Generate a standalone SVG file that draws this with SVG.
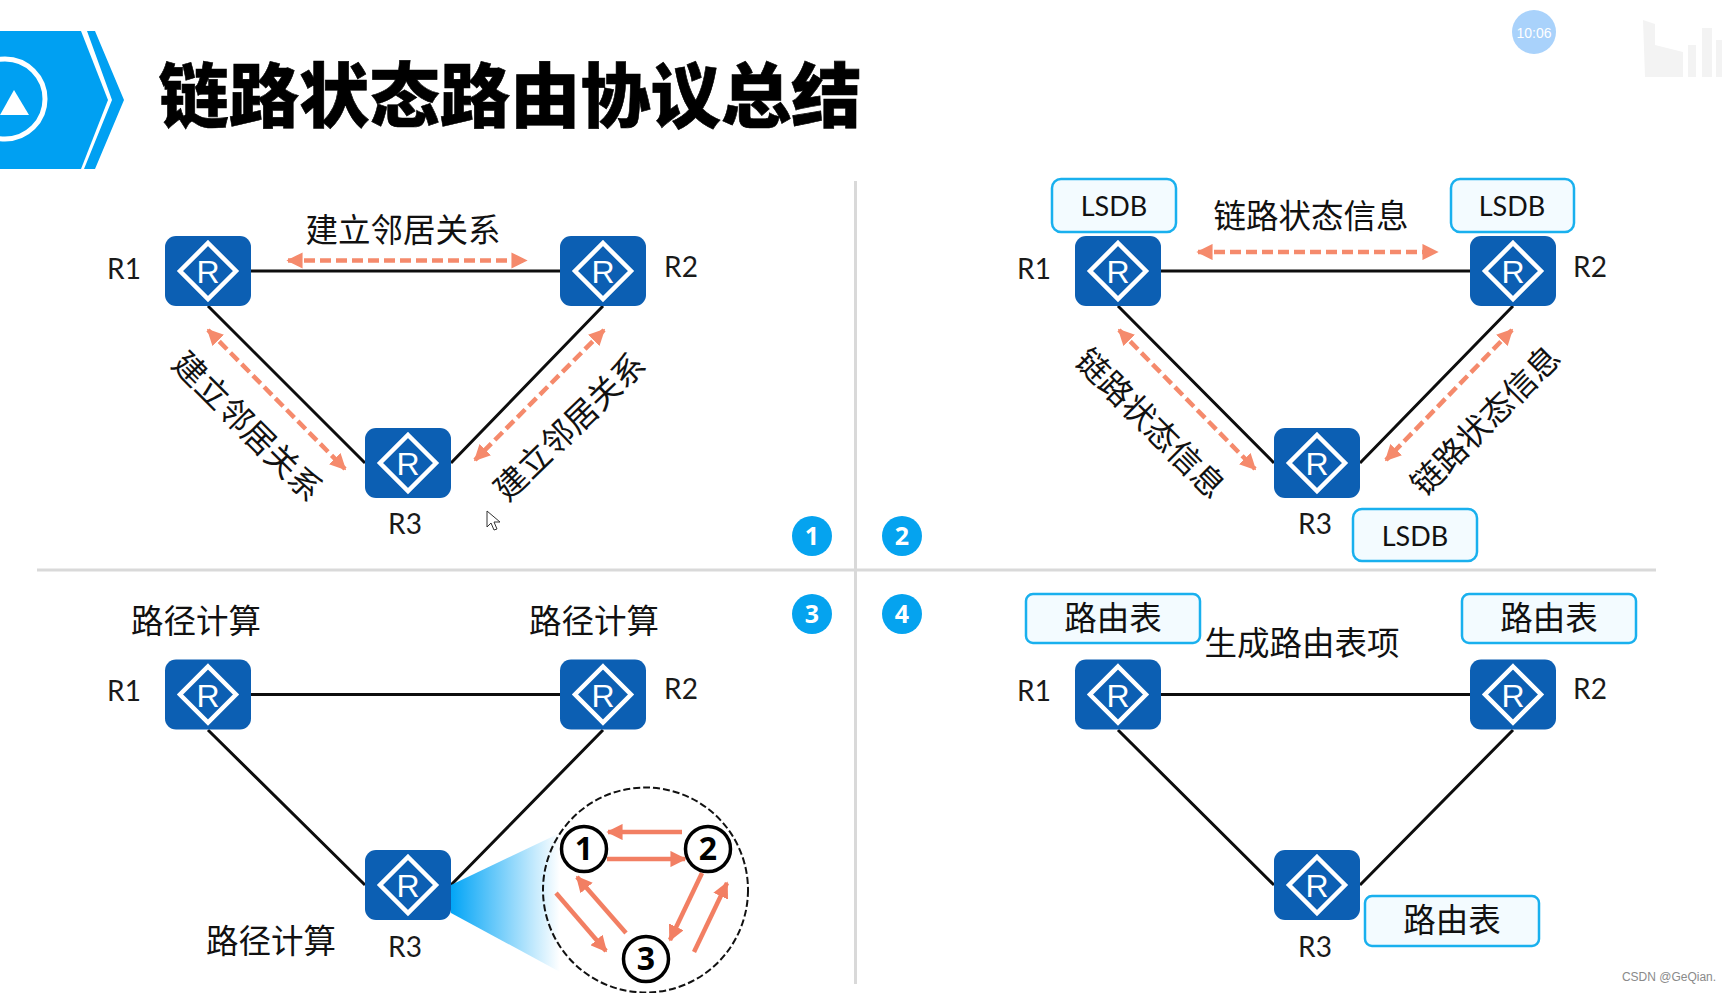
<svg xmlns="http://www.w3.org/2000/svg" width="1730" height="993" viewBox="0 0 1730 993">
<style>
text{font-family:"Noto Sans CJK SC","Noto Sans",sans-serif;fill:#111}
.zh{font-size:32.500px;text-anchor:middle}
.rn{font-family:"Lato",sans-serif;font-size:28px;text-anchor:middle;fill:#1a1a1a}
.box{fill:#f3fbff;stroke:#19b0ee;stroke-width:2.5}
.bt{font-family:"Lato",sans-serif;font-size:27px;text-anchor:middle}
.link{stroke:#0d0d0d;stroke-width:3;fill:none}
.dash{stroke:#f58a6c;stroke-width:4.5;stroke-dasharray:11 5;fill:none;marker-start:url(#ah);marker-end:url(#ah)}
.sol{stroke:#f27f63;stroke-width:4.5;fill:none;marker-end:url(#as)}
.sep{stroke:#d9d9d9;stroke-width:3}
.badge{fill:#05a3ef}
.bn{font-family:"Noto Sans",sans-serif;font-size:25px;font-weight:700;fill:#fff;text-anchor:middle}
.cn{font-family:"Noto Sans",sans-serif;font-size:32px;font-weight:700;fill:#000;text-anchor:middle}
.node{fill:#fff;stroke:#000;stroke-width:3.5}
</style>
<defs>
<marker id="ah" viewBox="0 0 10 10" refX="9" refY="5" markerWidth="3.6" markerHeight="3.6" orient="auto-start-reverse"><path d="M0 0L10 5L0 10Z" fill="#f58a6c"/></marker>
<marker id="as" viewBox="0 0 10 10" refX="9" refY="5" markerWidth="3.6" markerHeight="3.6" orient="auto"><path d="M0 0L10 5L0 10Z" fill="#f27f63"/></marker>
<linearGradient id="cone" x1="450" y1="0" x2="560" y2="0" gradientUnits="userSpaceOnUse"><stop offset="0" stop-color="#00a4f6"/><stop offset="1" stop-color="#00a4f6" stop-opacity="0"/></linearGradient>
<symbol id="router" width="86" height="70" viewBox="0 0 86 70" overflow="visible">
<rect x="0" y="0" width="86" height="70" rx="11" fill="#0c5fb3"/>
<path d="M43 7L71 35L43 63L15 35Z" fill="none" stroke="#fff" stroke-width="4.5"/>
<text x="43" y="47" font-size="32" text-anchor="middle" style="font-family:'Liberation Sans',sans-serif;fill:#fff">R</text>
</symbol>
</defs>
<rect width="1730" height="993" fill="#fff"/>

<g id="header">
<path d="M0 31H81L108 100L81 169H0Z" fill="#00a0f2"/>
<path d="M87 31H95L124 100L95 169H84L112 100Z" fill="#00a0f2"/>
<circle cx="5" cy="99" r="40" fill="none" stroke="#fff" stroke-width="5"/>
<path d="M14 90L29 115H0Z" fill="#fff"/>
<text x="510" y="122" font-size="70.300" font-weight="900" text-anchor="middle" stroke="#000" stroke-width="0.6" style="fill:#000">链路状态路由协议总结</text>
</g>

<g id="watermark">
<circle cx="1534" cy="32" r="22" fill="#a9d2fb"/>
<text x="1534" y="38" text-anchor="middle" style="font-family:'Liberation Sans',sans-serif;font-size:14px;fill:#fff">10:06</text>
<path d="M1643 20L1655 24V45L1683 52V77L1645 77Z M1688 45H1696V77H1688Z M1702 28H1712V77H1702Z M1716 40H1722V77H1716Z" fill="#f3f3f3"/>
</g>

<g id="separators">
<line class="sep" x1="855.500" y1="181" x2="855.500" y2="984"/>
<line class="sep" x1="37" y1="570" x2="1656" y2="570"/>
</g>

<g id="connectors">
<path class="link" d="M251 271H560M208 306L365 463M603 306L451 463"/>
<path class="link" d="M1161 271H1470M1118 306L1274 463M1513 306L1360 463"/>
<path class="link" d="M251 694.500H560M208 730L365 885M603 730L451 885"/>
<path class="link" d="M1161 694.500H1470M1118 730L1274 885M1513 730L1360 885"/>
<path class="dash" d="M288 260.500H526"/>
<path class="dash" d="M208 330L345 469"/>
<path class="dash" d="M604 330L475 460"/>
<path class="dash" d="M1198 252H1437"/>
<path class="dash" d="M1119 330L1255 469"/>
<path class="dash" d="M1512 330L1386 460"/>
</g>

<g id="p1-labels">
<text class="zh" x="403" y="242">建立邻居关系</text>
<text class="zh" transform="translate(247 427) rotate(45)" y="11">建立邻居关系</text>
<text class="zh" transform="translate(570 427) rotate(-44)" y="11">建立邻居关系</text>
</g>
<g id="p1-r1"><use href="#router" x="165" y="236"/><text class="rn" x="124" y="279">R1</text></g>
<g id="p1-r2"><use href="#router" x="560" y="236"/><text class="rn" x="681" y="277">R2</text></g>
<g id="p1-r3"><use href="#router" x="365" y="428"/><text class="rn" x="405" y="534">R3</text></g>
<g id="cursor"><path d="M487 511V527L491 523L494 530L497 529L494 522L500 522Z" fill="#fff" stroke="#333" stroke-width="1"/></g>

<g id="p2-labels">
<text class="zh" x="1311" y="228">链路状态信息</text>
<text class="zh" transform="translate(1150 424) rotate(45)" y="11">链路状态信息</text>
<text class="zh" transform="translate(1486 421) rotate(-45)" y="11">链路状态信息</text>
</g>
<g id="p2-r1"><use href="#router" x="1075" y="236"/><text class="rn" x="1034" y="279">R1</text></g>
<g id="p2-r2"><use href="#router" x="1470" y="236"/><text class="rn" x="1590" y="277">R2</text></g>
<g id="p2-r3"><use href="#router" x="1274" y="428"/><text class="rn" x="1315" y="534">R3</text></g>
<g id="lsdb1"><rect class="box" x="1052" y="179" width="124" height="53" rx="9"/><text class="bt" x="1114" y="216">LSDB</text></g>
<g id="lsdb2"><rect class="box" x="1451" y="179" width="123" height="53" rx="9"/><text class="bt" x="1512" y="216">LSDB</text></g>
<g id="lsdb3"><rect class="box" x="1353" y="509" width="124" height="52" rx="9"/><text class="bt" x="1415" y="546">LSDB</text></g>

<g id="badges">
<circle class="badge" cx="812" cy="536" r="20"/><text class="bn" x="812" y="545">1</text>
<circle class="badge" cx="902" cy="536" r="20"/><text class="bn" x="902" y="545">2</text>
<circle class="badge" cx="812" cy="614" r="20"/><text class="bn" x="812" y="623">3</text>
<circle class="badge" cx="902" cy="614" r="20"/><text class="bn" x="902" y="623">4</text>
</g>

<g id="p3-labels">
<text class="zh" x="196" y="633">路径计算</text>
<text class="zh" x="594" y="633">路径计算</text>
<text class="zh" x="271" y="953">路径计算</text>
</g>
<g id="p3-r1"><use href="#router" x="165" y="659.500"/><text class="rn" x="124" y="701">R1</text></g>
<g id="p3-r2"><use href="#router" x="560" y="659.500"/><text class="rn" x="681" y="699">R2</text></g>
<g id="inset">
<path d="M451 885L560 833V972L451 913Z" fill="url(#cone)"/>
<circle cx="645.500" cy="890" r="102.500" fill="none" stroke="#111" stroke-width="2" stroke-dasharray="7 3"/>
<path class="sol" d="M682 832H608"/>
<path class="sol" d="M607 859H685"/>
<path class="sol" d="M626 933L577 877"/>
<path class="sol" d="M556 893L606 951"/>
<path class="sol" d="M702 873L670 940"/>
<path class="sol" d="M694 952L727 883"/>
<g id="calc1"><circle class="node" cx="584" cy="849" r="22.500"/><text class="cn" x="584" y="860">1</text></g>
<g id="calc2"><circle class="node" cx="708" cy="849" r="22.500"/><text class="cn" x="708" y="860">2</text></g>
<g id="calc3"><circle class="node" cx="646" cy="959" r="22.500"/><text class="cn" x="646" y="970">3</text></g>
</g>
<g id="p3-r3"><use href="#router" x="365" y="850"/><text class="rn" x="405" y="957">R3</text></g>

<g id="p4-labels"><text class="zh" x="1302" y="655">生成路由表项</text></g>
<g id="p4-r1"><use href="#router" x="1075" y="659.500"/><text class="rn" x="1034" y="701">R1</text></g>
<g id="p4-r2"><use href="#router" x="1470" y="659.500"/><text class="rn" x="1590" y="699">R2</text></g>
<g id="p4-r3"><use href="#router" x="1274" y="850"/><text class="rn" x="1315" y="957">R3</text></g>
<g id="rt1"><rect class="box" x="1026" y="594" width="174" height="49" rx="7"/><text class="zh" x="1113" y="630">路由表</text></g>
<g id="rt2"><rect class="box" x="1462" y="594" width="174" height="49" rx="7"/><text class="zh" x="1549" y="630">路由表</text></g>
<g id="rt3"><rect class="box" x="1365" y="896" width="174" height="50" rx="7"/><text class="zh" x="1452" y="932">路由表</text></g>

<text x="1669" y="981" text-anchor="middle" style="font-family:'Liberation Sans',sans-serif;font-size:12px;fill:#8a8a8a">CSDN @GeQian.</text>
</svg>
